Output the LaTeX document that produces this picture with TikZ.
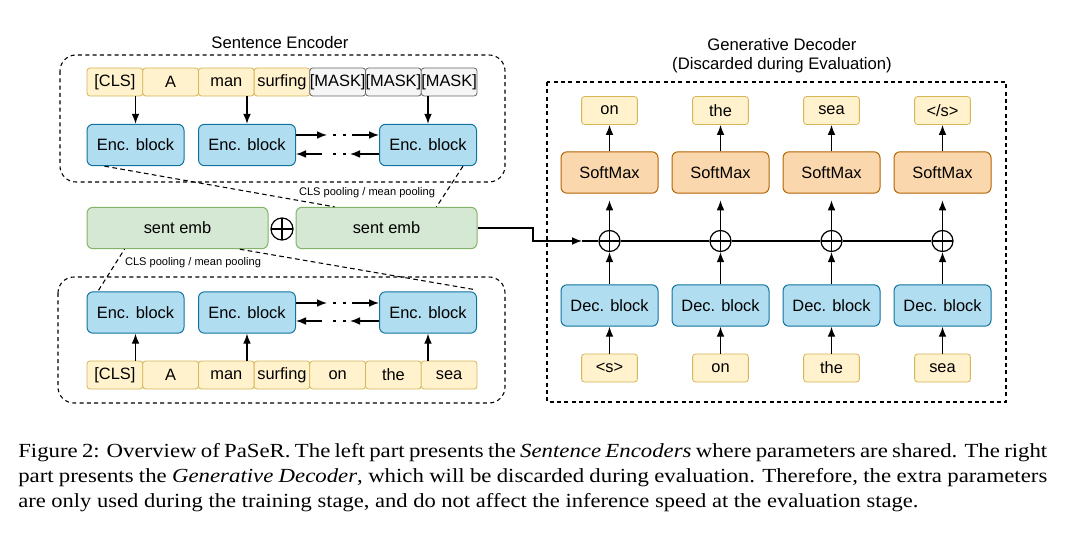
\documentclass[tikz,border=0pt]{standalone}
\usepackage{fontspec}
\setmainfont{Liberation Sans}
\newfontfamily\capfont{Liberation Serif}
\usetikzlibrary{arrows.meta,calc}
\definecolor{tokfill}{HTML}{FFF2CC}
\definecolor{tokdraw}{HTML}{D6B656}
\definecolor{maskfill}{HTML}{F5F5F5}
\definecolor{maskdraw}{HTML}{666666}
\definecolor{encfill}{HTML}{B1DDF0}
\definecolor{encdraw}{HTML}{10739E}
\definecolor{softfill}{HTML}{FAD7AC}
\definecolor{softdraw}{HTML}{B46504}
\definecolor{embfill}{HTML}{D5E8D4}
\definecolor{embdraw}{HTML}{82B366}
\newcommand{\capline}[1]{\scalebox{1.14}[1]{\makebox[677pt][s]{#1}}}
\begin{document}
\begin{tikzpicture}[x=0.75pt,y=-0.75pt,
  font=\fontsize{12.3}{14.5}\selectfont,
  tok/.style={draw=tokdraw, fill=tokfill, rounded corners=2.2pt, minimum width=41.8pt, minimum height=21pt, inner sep=0pt, line width=0.6pt},
  mask/.style={tok, draw=maskdraw, fill=maskfill},
  enc/.style={draw=encdraw, fill=encfill, rounded corners=4.5pt, minimum width=72.75pt, minimum height=31pt, inner sep=0pt, line width=0.75pt},
  soft/.style={enc, draw=softdraw, fill=softfill},
  emb/.style={enc, draw=embdraw, fill=embfill, minimum width=135.75pt},
  oplus/.style={circle, draw, line width=0.9pt, minimum size=15.75pt, inner sep=0pt, fill=white,
    path picture={\draw[line width=0.9pt] (path picture bounding box.north) -- (path picture bounding box.south)
      (path picture bounding box.west) -- (path picture bounding box.east);}},
  conn/.style={line width=0.95pt},
  arr/.style={conn, -{Latex[length=7.5pt,width=5.8pt]}},
  dotsty/.style={line width=0.95pt, dash pattern=on 2.5pt off 5pt},
  dbox/.style={draw, line width=0.8pt, dash pattern=on 3pt off 2.5pt},
  pool/.style={line width=0.8pt, dash pattern=on 3.5pt off 2.5pt},
  plabel/.style={font=\fontsize{8.3}{10}\selectfont, inner sep=0pt},
  title/.style={font=\fontsize{12.5}{14.25}\selectfont, align=center, inner sep=0pt},
  capnode/.style={font=\capfont\fontsize{15}{19}\selectfont, anchor=base west, inner sep=0pt}
]
\useasboundingbox (0,0) rectangle (1067,545);
\fill[white] (0,0) rectangle (1067,545);

% ---------- Sentence encoder (top) ----------
\node[title] (tEnc) at (280,43) {Sentence Encoder};
\draw[dbox, rounded corners=12pt] (60,55) rectangle (505,182);
\node[tok]  (t1) at (114.9,82) {[CLS]};
\node[tok]  (t2) at (170.6,82) {A};
\node[tok]  (t3) at (226.3,82) {man};
\node[tok]  (t4) at (282.0,82) {surfing};
\node[mask] (t5) at (337.7,82) {[MASK]};
\node[mask] (t6) at (393.4,82) {[MASK]};
\node[mask] (t7) at (449.1,82) {[MASK]};
\node[enc] (e1) at (135.5,145) {Enc. block};
\node[enc] (e2) at (247,145) {Enc. block};
\node[enc] (e3) at (428,145) {Enc. block};
\draw[arr] (t1.south -| e1.north) -- (e1.north);
\draw[arr] (t3.south -| e2.north) -- (e2.north);
\draw[arr] (t7.south -| e3.north) -- (e3.north);
\draw[arr] ($(e2.east)+(0,-10)$) -- ($(e2.east)+(31,-10)$);
\draw[dotsty] ($(e2.east)+(37,-10)$) -- ($(e2.east)+(52,-10)$);
\draw[arr] ($(e3.west)+(-27,-10)$) -- ($(e3.west)+(0,-10)$);
\draw[arr] ($(e3.west)+(0,9)$) -- ($(e3.west)+(-29,9)$);
\draw[dotsty] ($(e2.east)+(37,9)$) -- ($(e2.east)+(52,9)$);
\draw[arr] ($(e2.east)+(26,9)$) -- ($(e2.east)+(0,9)$);

% ---------- Sentence embeddings ----------
\node[emb] (sL) at (177.5,228) {sent emb};
\node[emb] (sR) at (386.5,228) {sent emb};
\node[oplus, minimum size=16.5pt] (pl) at (282,229) {};
\draw[pool] ($(e1.south west)+(18,0)$) -- ($(sR.north west)+(39,0)$);
\draw[pool] ($(e3.south east)+(-14,0)$) -- ($(sR.north east)+(-41,0)$);
\node[plabel] (lab1) at (367,193) {CLS pooling / mean pooling};

% ---------- Sentence encoder (bottom) ----------
\draw[dbox, rounded corners=12pt] (58,277) rectangle (505,403);
\node[enc] (f1) at (135.5,312.5) {Enc. block};
\node[enc] (f2) at (247,312.5) {Enc. block};
\node[enc] (f3) at (428,312.5) {Enc. block};
\node[tok] (b1) at (114.9,375) {[CLS]};
\node[tok] (b2) at (170.6,375) {A};
\node[tok] (b3) at (226.3,375) {man};
\node[tok] (b4) at (282.0,375) {surfing};
\node[tok] (b5) at (337.7,375) {on};
\node[tok] (b6) at (393.4,375) {the};
\node[tok] (b7) at (449.1,375) {sea};
\draw[arr] (b1.north -| f1.south) -- (f1.south);
\draw[arr] (b3.north -| f2.south) -- (f2.south);
\draw[arr] (b7.north -| f3.south) -- (f3.south);
\draw[arr] ($(f2.east)+(0,-9.5)$) -- ($(f2.east)+(31,-9.5)$);
\draw[dotsty] ($(f2.east)+(37,-9.5)$) -- ($(f2.east)+(52,-9.5)$);
\draw[arr] ($(f3.west)+(-27,-9.5)$) -- ($(f3.west)+(0,-9.5)$);
\draw[arr] ($(f3.west)+(0,8.5)$) -- ($(f3.west)+(-29,8.5)$);
\draw[dotsty] ($(f2.east)+(37,8.5)$) -- ($(f2.east)+(52,8.5)$);
\draw[arr] ($(f2.east)+(26,8.5)$) -- ($(f2.east)+(0,8.5)$);
\draw[pool] ($(f1.north west)+(12,-1)$) -- ($(sL.south west)+(38,0)$);
\draw[pool] ($(f3.north east)+(-4,-2)$) -- ($(sL.south west)+(153,0)$);
\node[plabel] (lab2) at (193,263) {CLS pooling / mean pooling};

% ---------- Generative decoder ----------
\node[title] (tDec) at (782,55.5) {Generative Decoder\\(Discarded during Evaluation)};
\draw[dbox] (547,82) rectangle (1006,402);
\foreach \i/\o/\n [count=\k] in {0/on/{<s>},1/the/on,2/sea/the,3/{</s>}/sea}{
  \pgfmathsetmacro{\cx}{609.5+111*\i}
  \node[tok]  (o\k) at (\cx,110.5) {\o};
  \node[soft] (s\k) at (\cx,172.5) {SoftMax};
  \node[oplus] (c\k) at (\cx,241) {};
  \node[enc]  (d\k) at (\cx,305.5) {Dec. block};
  \node[tok]  (i\k) at (\cx,368) {\n};
  \draw[arr] (i\k.north) -- (d\k.south);
  \draw[arr] (d\k.north) -- (c\k.south);
  \draw[arr, shorten >=5pt] (c\k.north) -- (s\k.south);
  \draw[arr] (s\k.north) -- (o\k.south);
}
\coordinate (k1) at (533,228);
\coordinate (k2) at (582,241);
\draw[arr] (sR.east) -- (k1) |- (k2);
\draw[conn] (k2) -- (c1.west);
\draw[conn] (c1.east) -- (c2.west);
\draw[conn] (c2.east) -- (c3.west);
\draw[conn] (c3.east) -- (c4.west);

% ---------- Caption ----------
\node[capnode] (cap1) at (18,457) {\capline{Figure 2: Overview of PaSeR. The left part presents the \textit{Sentence Encoders} where parameters are shared. The right}};
\node[capnode] (cap2) at (18,482) {\capline{part presents the \textit{Generative Decoder}, which will be discarded during evaluation. Therefore, the extra parameters}};
\node[capnode] (cap3) at (18,507) {\scalebox{1.127}[1]{are only used during the training stage, and do not affect the inference speed at the evaluation stage.}};
\end{tikzpicture}
\end{document}
